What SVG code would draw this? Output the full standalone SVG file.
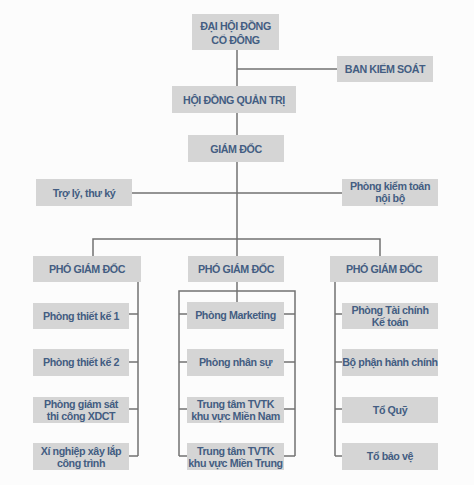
<svg xmlns="http://www.w3.org/2000/svg" width="474" height="485" viewBox="0 0 474 485">
<style>
.b{fill:#d5d5d5}
.t{font-family:"Liberation Sans",Arial,sans-serif;font-weight:bold;font-size:10.7px;letter-spacing:-0.4px;fill:#435d82;text-anchor:middle}
.c{stroke:#727272;stroke-width:1.5;fill:none}
</style>
<rect width="474" height="485" fill="#fcfcfc"/>
<g id="connectors" class="c">
<path d="M237 50V256"/>
<path d="M237 69H337"/>
<path d="M132 193H342"/>
<path d="M93 256V239H380V256"/>
<path d="M138 282V456M129 314H138M129 362H138M129 409H138M129 456H138"/>
<path d="M237 282V302M179 456V291H295V456"/>
<path d="M179 314H187M179 362H187M179 409H187M179 456H187M284 314H295M284 362H295M284 409H295M284 456H295"/>
<path d="M335 282V456M335 314H342M335 362H342M335 409H342M335 456H342"/>
</g>
<g id="dhdcd"><rect class="b" x="192" y="14" width="87" height="36"/><text class="t" x="235.5" y="30">ĐẠI HỘI ĐỒNG</text><text class="t" x="235.5" y="44">CỔ ĐÔNG</text></g>
<g id="bks"><rect class="b" x="337" y="56" width="96" height="26"/><text class="t" x="385" y="73">BAN KIỂM SOÁT</text></g>
<g id="hdqt"><rect class="b" x="172" y="86" width="124" height="27"/><text class="t" x="234" y="103.5">HỘI ĐỒNG QUẢN TRỊ</text></g>
<g id="gd"><rect class="b" x="188" y="135" width="96" height="27"/><text class="t" x="236" y="152.5">GIÁM ĐỐC</text></g>
<g id="trely"><rect class="b" x="36" y="179" width="96" height="27"/><text class="t" x="84" y="196.5">Trợ lý, thư ký</text></g>
<g id="pktnb"><rect class="b" x="342" y="179" width="96" height="27"/><text class="t" x="390" y="190">Phòng kiểm toán</text><text class="t" x="390" y="202">nội bộ</text></g>
<g id="pgd1"><rect class="b" x="33" y="256" width="108" height="26"/><text class="t" x="87" y="273">PHÓ GIÁM ĐỐC</text></g>
<g id="pgd2"><rect class="b" x="188" y="256" width="96" height="26"/><text class="t" x="236" y="273">PHÓ GIÁM ĐỐC</text></g>
<g id="pgd3"><rect class="b" x="330" y="256" width="108" height="26"/><text class="t" x="384" y="273">PHÓ GIÁM ĐỐC</text></g>
<g id="ptk1"><rect class="b" x="33" y="303" width="96" height="26"/><text class="t" x="81" y="320">Phòng thiết kế 1</text></g>
<g id="ptk2"><rect class="b" x="33" y="349" width="96" height="27"/><text class="t" x="81" y="366">Phòng thiết kế 2</text></g>
<g id="pgs"><rect class="b" x="33" y="397" width="96" height="26"/><text class="t" x="81" y="408">Phòng giám sát</text><text class="t" x="81" y="420">thi công XDCT</text></g>
<g id="xn"><rect class="b" x="33" y="443" width="96" height="27"/><text class="t" x="81" y="455">Xí nghiệp xây lắp</text><text class="t" x="81" y="467">công trình</text></g>
<g id="pmk"><rect class="b" x="187" y="302" width="97" height="27"/><text class="t" x="235.5" y="319">Phòng Marketing</text></g>
<g id="pns"><rect class="b" x="187" y="349" width="97" height="27"/><text class="t" x="235.5" y="366">Phòng nhân sự</text></g>
<g id="ttmn"><rect class="b" x="187" y="397" width="97" height="26"/><text class="t" x="235.5" y="408">Trung tâm TVTK</text><text class="t" x="235.5" y="420">khu vực Miền Nam</text></g>
<g id="ttmt"><rect class="b" x="187" y="443" width="97" height="27"/><text class="t" x="235.5" y="455">Trung tâm TVTK</text><text class="t" x="235.5" y="467">khu vực Miền Trung</text></g>
<g id="ptc"><rect class="b" x="342" y="303" width="96" height="26"/><text class="t" x="390" y="314">Phòng Tài chính</text><text class="t" x="390" y="326">Kế toán</text></g>
<g id="bphc"><rect class="b" x="342" y="349" width="96" height="27"/><text class="t" x="390" y="366">Bộ phận hành chính</text></g>
<g id="tq"><rect class="b" x="342" y="397" width="96" height="26"/><text class="t" x="390" y="414">Tổ Quỹ</text></g>
<g id="tbv"><rect class="b" x="342" y="443" width="96" height="27"/><text class="t" x="390" y="460">Tổ bảo vệ</text></g>
</svg>
